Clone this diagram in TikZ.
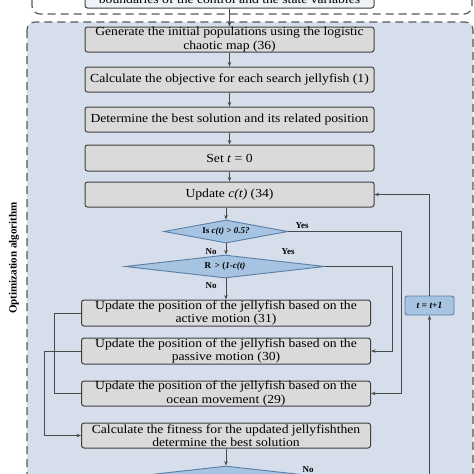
\documentclass[tikz,border=0pt]{standalone}
\usepackage{fontspec}
\setmainfont{Liberation Serif}
\newfontfamily\boxfont{Liberation Serif}[FakeStretch=1.11]
\usetikzlibrary{shapes.geometric,arrows.meta}
\definecolor{optbg}{HTML}{D5DEEA}
\definecolor{boxfill}{HTML}{DADADA}
\definecolor{boxline}{HTML}{404040}
\definecolor{dfill}{HTML}{A6C4E2}
\definecolor{dline}{HTML}{5A7EA6}
\definecolor{conn}{HTML}{4A4A4A}
\definecolor{dashc}{HTML}{5A5A5A}
\tikzset{
  procbox/.style={draw=boxline, line width=1pt, fill=boxfill, rounded corners=2.5pt,
    minimum width=289pt, minimum height=25pt, inner sep=0pt, align=center,
    font=\boxfont\fontsize{12.3}{13.5}\selectfont},
  decbox/.style={diamond, draw=dline, line width=0.9pt, fill=dfill, inner sep=0pt,
    font=\bfseries\fontsize{9}{10}\selectfont},
  lab/.style={font=\bfseries\fontsize{9}{10}\selectfont, inner sep=0pt},
  conline/.style={draw=conn, line width=0.9pt},
  arr/.style={conline, -{Stealth[length=4.5pt,width=3.5pt]}},
  region/.style={draw=dashc, line width=1.2pt, dash pattern=on 8pt off 5pt, rounded corners=8pt}
}
\begin{document}
\begin{tikzpicture}[x=1pt,y=-1pt]
\useasboundingbox (0,0) rectangle (474,474);
\clip (0,0) rectangle (474,474);
\fill[white] (0,0) rectangle (474,474);
% regions
\draw[region, fill=white] (32,-60) rectangle (472,14);
\draw[region, fill=optbg] (27,22) rectangle (473,560);
\node[rotate=90, font=\bfseries\fontsize{11}{12}\selectfont] (lbl) at (14,258) {Optimization algorithm};

% top box
\node[procbox, fill=white!60!optbg, text height=20pt, text depth=3.5pt] (top) at (229.5,-4.5) {boundaries of the control and the state variables};

\node[procbox] (b1) at (229.5,39.5) {Generate the initial populations using the logistic\\chaotic map (36)};
\node[procbox] (b2) at (229.5,79.5) {Calculate the objective for each search jellyfish (1)};
\node[procbox] (b3) at (229.5,119.5) {Determine the best solution and its related position};
\node[procbox, minimum height=26pt] (b4) at (229.5,158) {Set \textit{t} = 0};
\node[procbox] (b5) at (229.5,194.5) {Update \textit{c(t)} (34)};

\node[decbox, aspect=5.4, minimum width=124pt, minimum height=23pt] (d1) at (226,231.5) {Is \textit{c(t) > 0.5?}};
\node[decbox, aspect=8.7, minimum width=200pt, minimum height=23pt] (d2) at (225,266.5) {R \,> (\textit{1-c(t)}};

\node[procbox, minimum height=26pt] (act) at (226,313) {Update the position of the jellyfish based on the\\active motion (31)};
\node[procbox, minimum height=26pt] (pas) at (226,351) {Update the position of the jellyfish based on the\\passive motion (30)};
\node[procbox] (oce) at (226,393.5) {Update the position of the jellyfish based on the\\ocean movement (29)};
\node[procbox] (fit) at (226,435.5) {Calculate the fitness for the updated jellyfishthen\\determine the best solution};

\node[decbox, aspect=9, minimum width=204pt, minimum height=23pt] (d3) at (226,477.5) {};

\node[draw=dline, line width=0.9pt, fill=dfill, rounded corners=2.5pt, minimum width=49pt, minimum height=19pt, inner sep=0pt,
  font=\bfseries\itshape\fontsize{9.5}{10}\selectfont] (inc) at (429.5,305.5) {t = t+1};

% connectors
\draw[arr] (top.south) -- (b1.north);
\draw[arr] (b1) -- (b2);
\draw[arr] (b2) -- (b3);
\draw[arr] (b3) -- (b4);
\draw[arr] (b4) -- (b5);
\draw[arr] (b5.south -| d1.north) -- (d1.north);
\draw[arr] (d1.south) -- (d2.north -| d1.south);
\draw[arr] (d2.south -| d1.south) -- (act.north -| d1.south);
\draw[arr] (d1.east) -- (401,231.5) |- (oce.east);
\draw[arr] (d2.east) -- (392,266.5) |- (pas.east);
\draw[conline] (act.west) -- (54,313) |- (oce.west);
\draw[arr] (pas.west) -- (44,351) |- (fit.west);
\draw[arr] (fit.south -| d3.north) -- (d3.north);
\draw[arr] (d3.east) -| (inc.south);
\draw[arr] (inc.north) |- (b5.east);

% labels
\node[lab] (y1) at (302,226) {Yes};
\node[lab] (n1) at (211,252) {No};
\node[lab] (y2) at (288,252) {Yes};
\node[lab] (n2) at (211,286) {No};
\node[lab] (n3) at (308,470) {No};
\end{tikzpicture}
\end{document}
